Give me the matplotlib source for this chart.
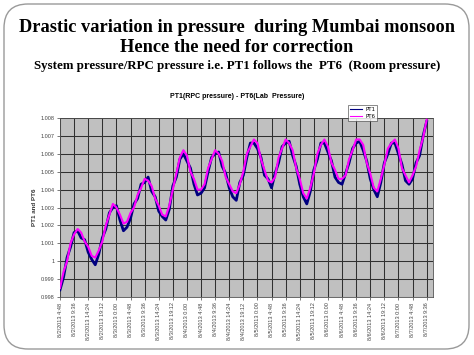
import matplotlib
matplotlib.use('Agg')
import matplotlib.pyplot as plt
import matplotlib.dates as mdates
from matplotlib.patches import FancyBboxPatch
import pandas as pd

# PT6 (room pressure) and PT1 (RPC pressure), read every 72 min from 8/2/2013 4:48
pt6 = [0.9985, 0.9994, 1.0000, 1.0010, 1.0015, 1.0018, 1.0016, 1.0011, 1.0008, 1.0003,
       1.0002, 1.0006, 1.0011, 1.0020, 1.0026, 1.0032, 1.0030, 1.0026, 1.0021, 1.0022,
       1.0027, 1.0030, 1.0037, 1.0041, 1.0046, 1.0045, 1.0042, 1.0035, 1.0031, 1.0026,
       1.0025, 1.0031, 1.0040, 1.0049, 1.0058, 1.0062, 1.0059, 1.0050, 1.0046, 1.0040,
       1.0040, 1.0043, 1.0052, 1.0057, 1.0062, 1.0060, 1.0056, 1.0047, 1.0043, 1.0039,
       1.0038, 1.0043, 1.0050, 1.0060, 1.0064, 1.0068, 1.0066, 1.0057, 1.0051, 1.0045,
       1.0044, 1.0047, 1.0058, 1.0063, 1.0068, 1.0066, 1.0062, 1.0052, 1.0046, 1.0038,
       1.0035, 1.0041, 1.0049, 1.0060, 1.0065, 1.0068, 1.0064, 1.0055, 1.0051, 1.0046,
       1.0046, 1.0048, 1.0057, 1.0062, 1.0068, 1.0068, 1.0065, 1.0055, 1.0049, 1.0041,
       1.0039, 1.0046, 1.0054, 1.0063, 1.0066, 1.0068, 1.0063, 1.0052, 1.0048, 1.0044,
       1.0048, 1.0053, 1.0062, 1.0069, 1.0079]
pt1 = [0.9984, 0.9991, 1.0002, 1.0008, 1.0016, 1.0017, 1.0013, 1.0012, 1.0005, 1.0001,
       0.9998, 1.0004, 1.0013, 1.0018, 1.0027, 1.0030, 1.0031, 1.0023, 1.0017, 1.0019,
       1.0024, 1.0032, 1.0035, 1.0043, 1.0044, 1.0047, 1.0039, 1.0036, 1.0028, 1.0025,
       1.0023, 1.0029, 1.0042, 1.0047, 1.0057, 1.0060, 1.0056, 1.0052, 1.0043, 1.0037,
       1.0038, 1.0041, 1.0050, 1.0058, 1.0060, 1.0061, 1.0053, 1.0049, 1.0041, 1.0036,
       1.0034, 1.0044, 1.0048, 1.0058, 1.0066, 1.0066, 1.0063, 1.0058, 1.0048, 1.0046,
       1.0041, 1.0049, 1.0055, 1.0064, 1.0066, 1.0067, 1.0059, 1.0053, 1.0043, 1.0036,
       1.0032, 1.0039, 1.0051, 1.0057, 1.0066, 1.0066, 1.0061, 1.0056, 1.0047, 1.0044,
       1.0043, 1.0049, 1.0055, 1.0063, 1.0066, 1.0067, 1.0062, 1.0056, 1.0046, 1.0040,
       1.0036, 1.0044, 1.0055, 1.0060, 1.0066, 1.0066, 1.0060, 1.0054, 1.0045, 1.0043,
       1.0046, 1.0055, 1.0059, 1.0070, 1.0078]

start = pd.Timestamp('2013-08-02 04:48')
times = pd.date_range(start, periods=len(pt6), freq='72min')
tick_times = pd.date_range(start, '2013-08-07 09:36', freq='288min')
tick_labels = [f"{d.month}/{d.day}/{d.year} {d.hour}:{d.minute:02d}" for d in tick_times]
y_ticks = [0.998, 0.999, 1.0, 1.001, 1.002, 1.003, 1.004, 1.005, 1.006, 1.007, 1.008]
y_labels = ['0.998', '0.999', '1', '1.001', '1.002', '1.003', '1.004',
            '1.005', '1.006', '1.007', '1.008']

W, H = 474, 355
fig = plt.figure(figsize=(W / 100, H / 100), dpi=100)
fig.patch.set_facecolor('white')

# slide frame
bg = fig.add_axes([0, 0, 1, 1], zorder=0)
bg.set_xlim(0, W)
bg.set_ylim(H, 0)
bg.axis('off')
bg.add_patch(FancyBboxPatch((4, 4), 465, 345, boxstyle='round,pad=0,rounding_size=24',
                            facecolor='white', edgecolor='#9a9a9a', linewidth=1.0))

serif = ['Liberation Serif', 'DejaVu Serif']
fig.text(237 / W, 1 - 27 / H, 'Drastic variation in pressure  during Mumbai monsoon',
         ha='center', va='center', fontsize=13.2, fontweight='bold', family=serif)
fig.text(237 / W, 1 - 47 / H, 'Hence the need for correction',
         ha='center', va='center', fontsize=13.2, fontweight='bold', family=serif)
fig.text(237 / W, 1 - 66 / H,
         'System pressure/RPC pressure i.e. PT1 follows the  PT6  (Room pressure)',
         ha='center', va='center', fontsize=9.3, fontweight='bold', family=serif)

ax = fig.add_axes([60 / W, 1 - 297 / H, (433 - 60) / W, (297 - 118) / H], zorder=1)
ax.set_facecolor('#c0c0c0')
ax.plot(times, pt1, color='#000080', linewidth=2.0, label='PT1', zorder=3)
ax.plot(times, pt6, color='#ff00ff', linewidth=1.5, label='PT6', zorder=4)

ax.set_ylim(0.998, 1.008)
ax.set_yticks(y_ticks)
ax.set_yticklabels(y_labels)
ax.set_xlim(mdates.date2num(start), mdates.date2num(start) + 5.29)
ax.set_xticks(mdates.date2num(tick_times))
ax.set_xticklabels(tick_labels, rotation=90)
ax.tick_params(axis='both', labelsize=4, colors='#444444', length=2, width=0.5, pad=2)
for lab in ax.get_xticklabels() + ax.get_yticklabels():
    lab.set_family('Liberation Sans')
ax.grid(True, color='#303030', linewidth=0.75)
ax.set_axisbelow(True)
for s in ax.spines.values():
    s.set_color('#505050')
    s.set_linewidth(0.6)

fig.text(237 / W, 1 - 97 / H, 'PT1(RPC pressure) - PT6(Lab  Pressure)',
         ha='center', va='center', fontsize=5, fontweight='bold', family='Liberation Sans')
fig.text(35 / W, 1 - 207 / H, 'PT1 and PT6', rotation=90, ha='center', va='center',
         fontsize=4.5, fontweight='bold', family='Liberation Sans', color='#333333')

leg = fig.legend(loc='upper left', bbox_to_anchor=(345 / W, 1 - 102 / H),
                 fontsize=4, frameon=True, fancybox=False, handlelength=2.2,
                 borderpad=0.4, labelspacing=0.3, handletextpad=0.5)
leg.get_frame().set_edgecolor('#333333')
leg.get_frame().set_linewidth(0.5)
for line in leg.get_lines():
    line.set_linewidth(0.8)

fig.savefig('out.png', dpi=100)
